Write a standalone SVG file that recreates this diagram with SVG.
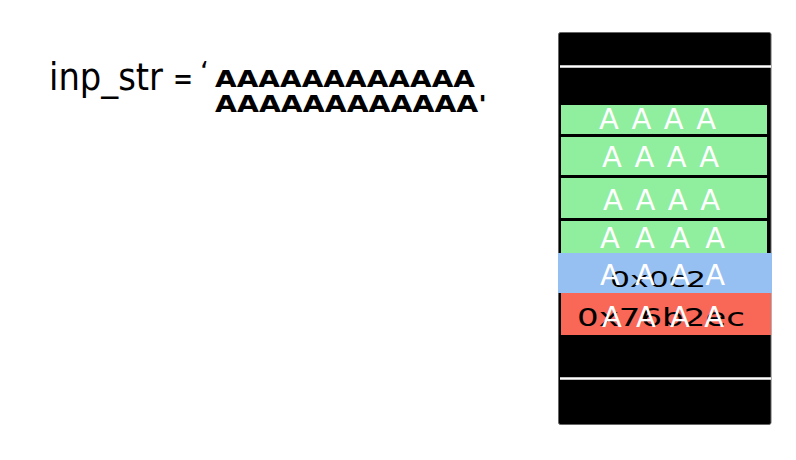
<svg xmlns="http://www.w3.org/2000/svg" width="796" height="460" viewBox="0 0 796 460">
<style>
.code{font-family:"DejaVu Sans","Liberation Sans",sans-serif;fill:#000}
.wa{font-family:"DejaVu Sans","Liberation Sans",sans-serif;fill:#fff;font-size:29px}
.addr{font-family:"DejaVu Sans","Liberation Sans",sans-serif;fill:#000}
.green{fill:#90ee9f}
.sep{stroke:#fff;stroke-width:2.5}
</style>
<rect x="0" y="0" width="796" height="460" fill="#fff"/>
<g id="code">
<text class="code" x="49" y="90" font-size="37" textLength="114" lengthAdjust="spacingAndGlyphs">inp_str</text>
<text class="code" x="173" y="90" font-size="32" textLength="20" lengthAdjust="spacingAndGlyphs">=</text>
<text class="code" x="200" y="82" font-size="28">‘</text>
<text class="code" x="215" y="87" font-size="23" font-weight="bold" textLength="260" lengthAdjust="spacingAndGlyphs">AAAAAAAAAAAA</text>
<text class="code" x="215" y="112" font-size="23" font-weight="bold" textLength="272" lengthAdjust="spacingAndGlyphs">AAAAAAAAAAAA'</text>
</g>
<g id="stack">
<rect id="stack-bg" x="558.5" y="32.5" width="212.5" height="392" rx="2" fill="#000" stroke="#666" stroke-width="1"/>
<line class="sep" x1="560" y1="66.5" x2="771" y2="66.5"/>
<line class="sep" x1="560" y1="378.5" x2="771" y2="378.5"/>
</g>
<g id="row1"><rect class="green" x="561" y="105" width="206" height="29"/>
<text class="wa" x="599" y="129" textLength="117" lengthAdjust="spacing">AAAA</text></g>
<g id="row2"><rect class="green" x="561" y="137" width="206" height="38"/>
<text class="wa" x="602" y="167" textLength="117" lengthAdjust="spacing">AAAA</text></g>
<g id="row3"><rect class="green" x="561" y="178" width="206" height="40"/>
<text class="wa" x="603" y="210" textLength="117" lengthAdjust="spacing">AAAA</text></g>
<g id="row4"><rect class="green" x="561" y="221" width="206" height="32"/>
<text class="wa" x="600" y="248" textLength="125" lengthAdjust="spacing">AAAA</text></g>
<g id="row-ebp"><rect x="558" y="253" width="214" height="40" fill="#97c0f2"/>
<text class="addr" x="610" y="287" font-size="21" textLength="96" lengthAdjust="spacingAndGlyphs">0x0c2</text>
<text class="wa" x="600" y="285" textLength="125" lengthAdjust="spacing">AAAA</text></g>
<g id="row-ret"><rect x="561" y="293" width="210" height="42" fill="#f96757"/>
<text class="addr" x="577" y="326" font-size="25" textLength="168" lengthAdjust="spacingAndGlyphs">0x76b2ec</text>
<text class="wa" x="602" y="327" textLength="122" lengthAdjust="spacing">AAAA</text></g>
</svg>
